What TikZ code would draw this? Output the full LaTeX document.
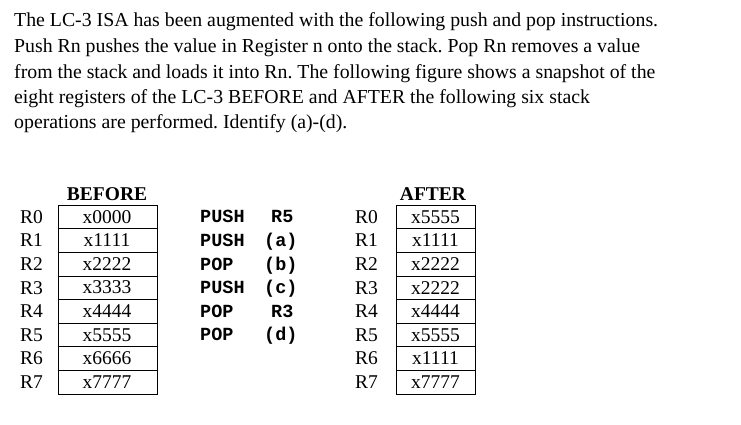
\documentclass[tikz,border=0pt]{standalone}
\usepackage{fontspec}
\setmainfont{Liberation Serif}
\setmonofont{Liberation Mono}
\begin{document}
\frenchspacing
\begin{tikzpicture}[x=1pt,y=-1pt,
  para/.style={anchor=base west,inner sep=0,font=\fontsize{19.8}{22}\selectfont},
  cell/.style={font=\fontsize{19.5}{22}\selectfont,inner sep=0},
  lab/.style={font=\fontsize{19.5}{22}\selectfont,inner sep=0,anchor=base west},
  ins/.style={font=\fontsize{18.5}{22}\selectfont\ttfamily\bfseries,inner sep=0,anchor=base west},
  hdr/.style={font=\fontsize{19.5}{22}\selectfont\bfseries,inner sep=0,anchor=base}]
\useasboundingbox (0,0) rectangle (741,424);
\node[para] (p1) at (14,26) {The LC-3 ISA has been augmented with the following push and pop instructions.};
\node[para] (p2) at (14,52) {Push Rn pushes the value in Register n onto the stack. Pop Rn removes a value};
\node[para] (p3) at (14,78) {from the stack and loads it into Rn. The following figure shows a snapshot of the};
\node[para] (p4) at (14,103) {eight registers of the LC-3 BEFORE and AFTER the following six stack};
\node[para] (p5) at (14,128) {operations are performed. Identify (a)-(d).};
\node[hdr] (hb) at (107,200) {BEFORE};
\node[hdr] (ha) at (433,200) {AFTER};
\def\rh{23.6}
\foreach \i/\b/\a in {0/x0000/x5555,1/x1111/x1111,2/x2222/x2222,3/x3333/x2222,4/x4444/x4444,5/x5555/x5555,6/x6666/x1111,7/x7777/x7777}{
  \draw (58,205+\i*\rh) rectangle (157,205+\i*\rh+\rh);
  \draw (396,205+\i*\rh) rectangle (475,205+\i*\rh+\rh);
  \node[cell] (b\i) at (107,205+\i*\rh+\rh/2) {\b};
  \node[cell] (a\i) at (435.5,205+\i*\rh+\rh/2) {\a};
  \node[lab] (lb\i) at (20,205+\i*\rh+\rh/2+6.5) {R\i};
  \node[lab] (la\i) at (355,205+\i*\rh+\rh/2+6.5) {R\i};
}
\foreach \i/\p/\q/\x in {0/PUSH/R5/271,1/PUSH/(a)/264,2/POP/(b)/264,3/PUSH/(c)/264,4/POP/R3/271,5/POP/(d)/264}{
  \node[ins] (i\i) at (200,205+\i*\rh+\rh/2+6) {\p};
  \node[ins] (j\i) at (\x,205+\i*\rh+\rh/2+6) {\q};
}
\end{tikzpicture}
\end{document}
